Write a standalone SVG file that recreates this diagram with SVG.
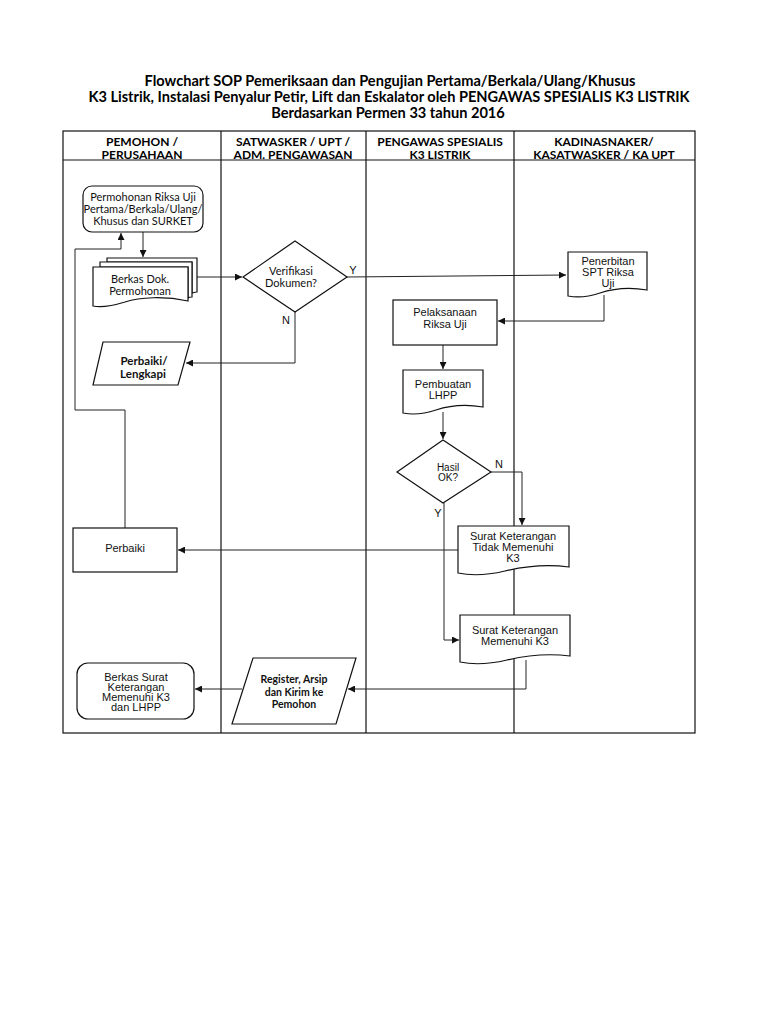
<svg xmlns="http://www.w3.org/2000/svg" width="768" height="1024" viewBox="0 0 768 1024">
<defs>
<style>
.title{font-family:Lato,"Liberation Sans",sans-serif;font-weight:bold;font-size:14.6px;fill:#000;text-anchor:middle;dominant-baseline:central}
.hdr{font-family:Lato,"Liberation Sans",sans-serif;font-weight:bold;font-size:12px;fill:#000;text-anchor:middle;dominant-baseline:central}
.c{font-family:Lato,"Liberation Sans",sans-serif;font-size:11px;fill:#111;text-anchor:middle;dominant-baseline:central}
.cb{font-family:Lato,"Liberation Sans",sans-serif;font-weight:bold;font-size:11.5px;fill:#111;text-anchor:middle;dominant-baseline:central}
.a{font-family:"Liberation Sans",Arial,sans-serif;font-size:11px;fill:#111;text-anchor:middle;dominant-baseline:central}
.lbl{font-family:"Liberation Sans",Arial,sans-serif;font-size:11px;fill:#111;text-anchor:middle;dominant-baseline:central}
.shape{fill:#fff;stroke:#111;stroke-width:1.2}
.grid{fill:none;stroke:#111;stroke-width:1.2}
.conn{fill:none;stroke:#222;stroke-width:1}
</style>
<marker id="arr" viewBox="0 0 10 10" refX="10" refY="5" markerWidth="7" markerHeight="7" markerUnits="userSpaceOnUse" orient="auto">
<path d="M0,0 L10,5 L0,10 Z" fill="#111"/>
</marker>
</defs>
<rect width="768" height="1024" fill="#fff"/>

<g id="title">
<text class="title" x="390" y="80">Flowchart SOP Pemeriksaan dan Pengujian Pertama/Berkala/Ulang/Khusus</text>
<text class="title" x="389" y="96">K3 Listrik, Instalasi Penyalur Petir, Lift dan Eskalator oleh PENGAWAS SPESIALIS K3 LISTRIK</text>
<text class="title" x="388" y="112">Berdasarkan Permen 33 tahun 2016</text>
</g>

<g id="swimlanes">
<rect class="grid" x="63" y="131" width="632" height="602"/>
<line class="grid" x1="63" y1="160" x2="695" y2="160"/>
<line class="grid" x1="221" y1="131" x2="221" y2="733"/>
<line class="grid" x1="366" y1="131" x2="366" y2="733"/>
<line class="grid" x1="514" y1="131" x2="514" y2="733"/>
<text class="hdr" x="142" y="141">PEMOHON /</text>
<text class="hdr" x="142" y="154">PERUSAHAAN</text>
<text class="hdr" x="293" y="141">SATWASKER / UPT /</text>
<text class="hdr" x="293" y="154">ADM. PENGAWASAN</text>
<text class="hdr" x="440" y="141">PENGAWAS SPESIALIS</text>
<text class="hdr" x="440" y="154">K3 LISTRIK</text>
<text class="hdr" x="604" y="141">KADINASNAKER/</text>
<text class="hdr" x="604" y="154">KASATWASKER / KA UPT</text>
</g>

<g id="connectors">
<path class="conn" d="M143,232 V257" marker-end="url(#arr)"/>
<path class="conn" d="M192,277 H242" marker-end="url(#arr)"/>
<path class="conn" d="M347,277 L566,275" marker-end="url(#arr)"/>
<path class="conn" d="M295,312 V363 H186" marker-end="url(#arr)"/>
<path class="conn" d="M125,528 V410 H75 V249 H121 V233" marker-end="url(#arr)"/>
<path class="conn" d="M604,295 V321 H498" marker-end="url(#arr)"/>
<path class="conn" d="M443,345 V369" marker-end="url(#arr)"/>
<path class="conn" d="M443,412 V439" marker-end="url(#arr)"/>
<path class="conn" d="M491,472 H522 V525" marker-end="url(#arr)"/>
<path class="conn" d="M444,503 V640 H459" marker-end="url(#arr)"/>
<path class="conn" d="M458,550 H178" marker-end="url(#arr)"/>
<path class="conn" d="M526,660 V689 H348" marker-end="url(#arr)"/>
<path class="conn" d="M242,689 H195" marker-end="url(#arr)"/>
<text class="lbl" x="353" y="270">Y</text>
<text class="lbl" x="286" y="320">N</text>
<text class="lbl" x="499" y="464">N</text>
<text class="lbl" x="438" y="513">Y</text>
</g>

<g id="n-permohonan">
<rect class="shape" x="83" y="186" width="120" height="46" rx="9"/>
<text class="c" x="143" y="196">Permohonan Riksa Uji</text>
<text class="c" x="143" y="208">Pertama/Berkala/Ulang/</text>
<text class="c" x="143" y="220">Khusus dan SURKET</text>
</g>

<g id="n-berkas-dok">
<path class="shape" d="M107,258 H197 V292 C194,292 193,293 192,293 L192,262 H107 Z"/>
<path class="shape" d="M100,262 H192 V297 C190,297 189,297 188,298 L188,267 H100 Z"/>
<path class="shape" d="M93,267 H188 V301 C165,296 140,297 125,302 C112,306 102,308 93,306 Z"/>
<text class="c" x="140" y="278">Berkas Dok.</text>
<text class="c" x="140" y="290">Permohonan</text>
</g>

<g id="n-verifikasi">
<path class="shape" d="M243,277 L295,241 L347,277 L295,312 Z"/>
<text class="c" x="291" y="270">Verifikasi</text>
<text class="c" x="291" y="282">Dokumen?</text>
</g>

<g id="n-perbaiki-lengkapi">
<path class="shape" d="M103,342 H190 L178,385 H93 Z"/>
<text class="cb" x="144" y="360">Perbaiki/</text>
<text class="cb" x="143" y="373">Lengkapi</text>
</g>

<g id="n-penerbitan">
<path class="shape" d="M568,252 H647 V290 C630,287 612,289 600,293 C588,297 578,298 568,296 Z"/>
<text class="a" x="608" y="261">Penerbitan</text>
<text class="a" x="608" y="272">SPT Riksa</text>
<text class="a" x="608" y="283">Uji</text>
</g>

<g id="n-pelaksanaan">
<rect class="shape" x="393" y="300" width="104" height="45"/>
<text class="a" x="445" y="312">Pelaksanaan</text>
<text class="a" x="445" y="324">Riksa Uji</text>
</g>

<g id="n-pembuatan">
<path class="shape" d="M403,370 H483 V407 C466,404 448,406 436,410 C424,414 413,415 403,413 Z"/>
<text class="a" x="443" y="384">Pembuatan</text>
<text class="a" x="443" y="395">LHPP</text>
</g>

<g id="n-hasil">
<path class="shape" d="M397,472 L443,440 L491,472 L443,503 Z"/>
<text class="a" x="448" y="467" style="font-size:10px">Hasil</text>
<text class="a" x="448" y="477" style="font-size:10px">OK?</text>
</g>

<g id="n-sk-tidak">
<path class="shape" d="M458,526 H569 V567 C546,564 522,567 505,571 C488,575 472,576 458,573 Z"/>
<text class="a" x="513" y="536">Surat Keterangan</text>
<text class="a" x="513" y="547">Tidak Memenuhi</text>
<text class="a" x="513" y="558">K3</text>
</g>

<g id="n-sk-memenuhi">
<path class="shape" d="M460,615 H570 V656 C547,653 524,656 507,660 C490,664 474,665 460,662 Z"/>
<text class="a" x="515" y="630">Surat Keterangan</text>
<text class="a" x="515" y="641">Memenuhi K3</text>
</g>

<g id="n-perbaiki">
<rect class="shape" x="73" y="528" width="104" height="44"/>
<text class="a" x="125" y="548">Perbaiki</text>
</g>

<g id="n-register">
<path class="shape" d="M253,658 H356 L336,724 H232 Z"/>
<text class="cb" x="294" y="679" style="font-size:10.5px">Register, Arsip</text>
<text class="cb" x="294" y="692" style="font-size:10.5px">dan Kirim ke</text>
<text class="cb" x="294" y="704" style="font-size:10.5px">Pemohon</text>
</g>

<g id="n-berkas-surat">
<rect class="shape" x="77" y="663" width="117" height="56" rx="11"/>
<text class="a" x="136" y="677">Berkas Surat</text>
<text class="a" x="136" y="687">Keterangan</text>
<text class="a" x="136" y="697">Memenuhi K3</text>
<text class="a" x="136" y="707">dan LHPP</text>
</g>
</svg>
